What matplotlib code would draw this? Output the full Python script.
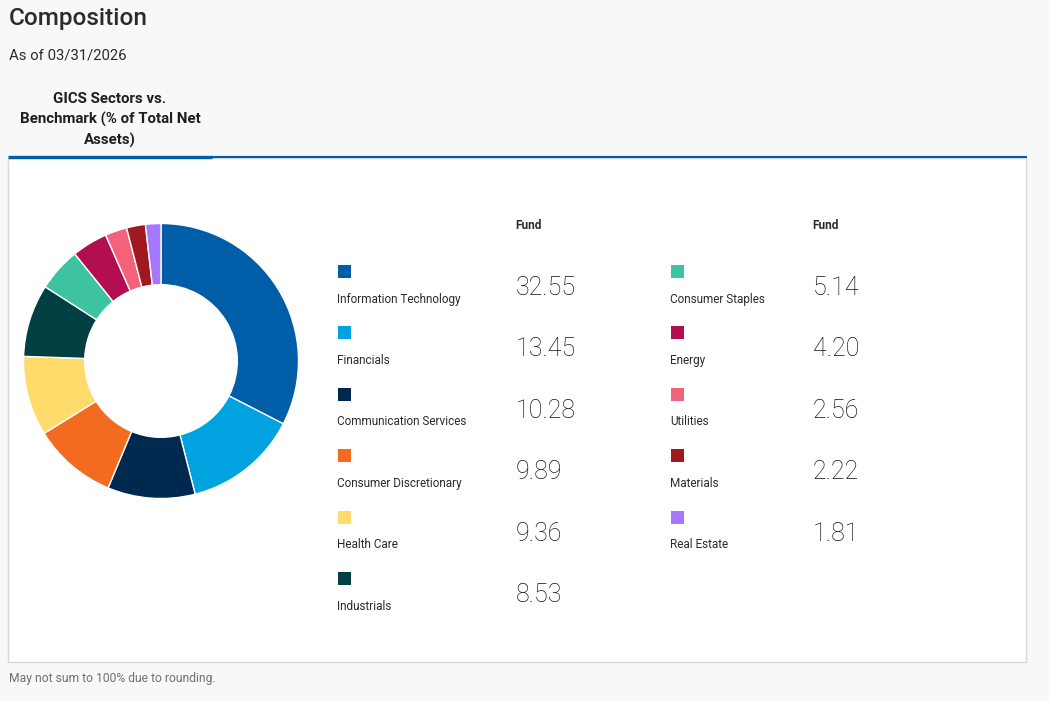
import matplotlib
matplotlib.use("Agg")
import matplotlib.pyplot as plt
from matplotlib.patches import Rectangle
from matplotlib.lines import Line2D

plt.rcParams['font.family'] = ['Roboto', 'DejaVu Sans']

sectors = ["Information Technology", "Financials", "Communication Services",
           "Consumer Discretionary", "Health Care", "Industrials",
           "Consumer Staples", "Energy", "Utilities", "Materials", "Real Estate"]
fund = [32.55, 13.45, 10.28, 9.89, 9.36, 8.53, 5.14, 4.20, 2.56, 2.22, 1.81]
colors = ["#005DA8", "#00A3E0", "#00294F", "#F26B21", "#FEDB6B", "#004042",
          "#3EC3A0", "#B30E4F", "#F2637B", "#A0191E", "#A877FF"]

W, H = 1049, 701
fig = plt.figure(figsize=(W / 100, H / 100), dpi=100, facecolor="#F8F8F8")

def fx(x):
    return x / W

def fy(y):
    return 1 - y / H

# white panel with border
fig.patches.append(Rectangle((fx(8), fy(662)), fx(1026) - fx(8), fy(158) - fy(662),
                             transform=fig.transFigure, facecolor="white",
                             edgecolor="#D9D9D9", linewidth=1, zorder=-5))
# tab lines
fig.lines.append(Line2D([fx(212), fx(1027)], [fy(157), fy(157)], transform=fig.transFigure,
                        color="#005DA8", linewidth=1.5, solid_capstyle="butt"))
fig.lines.append(Line2D([fx(8), fx(212)], [fy(156.5), fy(156.5)], transform=fig.transFigure,
                        color="#005DA8", linewidth=2.4, solid_capstyle="butt"))

txt = "#2B2B2B"
fig.text(fx(9), fy(18.5), "Composition", fontsize=17.5, color=txt, va="center", ha="left",
         fontweight="medium")
fig.text(fx(9), fy(55), "As of 03/31/2026", fontsize=10.7, color=txt, va="center", ha="left")
fig.text(fx(110), fy(120), "GICS Sectors vs.\nBenchmark (% of Total Net\nAssets)", fontsize=10.8,
         color="#1E1E1E", va="center", ha="center", fontweight="bold", linespacing=1.5)
fig.text(fx(9), fy(678.5), "May not sum to 100% due to rounding.", fontsize=8.75,
         color="#707070", va="center", ha="left")

# donut
cx, cy, r = 161, 361, 137.5
ax = fig.add_axes([fx(cx - r), fy(cy + r), (2 * r) / W, (2 * r) / H], zorder=5)
ax.pie(fund, colors=colors, startangle=90, counterclock=False, radius=1,
       wedgeprops=dict(width=0.445, edgecolor="white", linewidth=1))
ax.set_xlim(-1, 1)
ax.set_ylim(-1, 1)
ax.set_aspect("equal")
ax.axis("off")

# legend columns
cols = [(337, 516), (670, 813)]
row0 = 287
dy = 61.4
for c, (lx, nx) in enumerate(cols):
    fig.text(fx(nx - 1), fy(225.5), "Fund", fontsize=8.5, fontweight="bold", color=txt,
             va="center", ha="left")
for i, (name, val, col) in enumerate(zip(sectors, fund, colors)):
    c = 0 if i < 6 else 1
    k = i if i < 6 else i - 6
    lx, nx = cols[c]
    yv = row0 + k * dy
    fig.patches.append(Rectangle((fx(lx + 1), fy(yv - 9)), 13 / W, 13 / H,
                                 transform=fig.transFigure, facecolor=col, edgecolor="none"))
    fig.text(fx(lx), fy(yv + 12), name, fontsize=8.5, color=txt, va="center", ha="left")
    fig.text(fx(nx), fy(yv + 1), f"{val:.2f}", fontsize=18, color="#111111", va="center",
             ha="left", fontweight="light")

fig.savefig("out.png", dpi=100, facecolor=fig.get_facecolor())
